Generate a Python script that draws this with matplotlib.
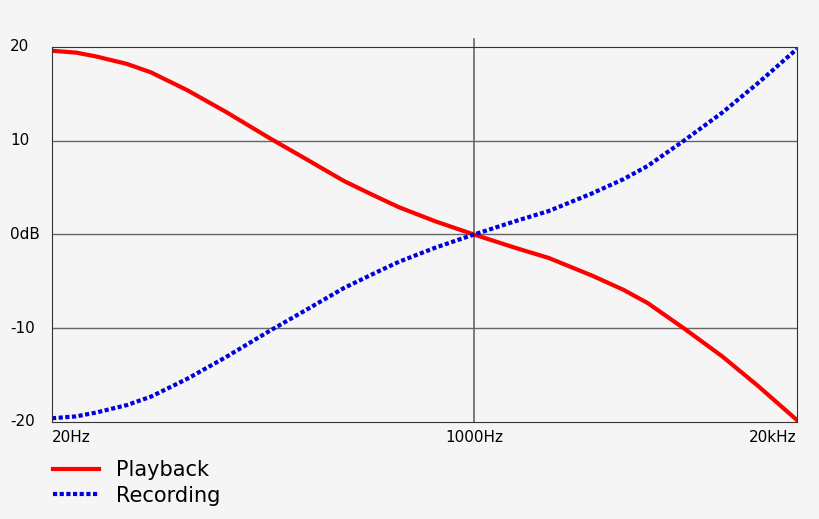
import matplotlib
matplotlib.use("Agg")
import matplotlib.pyplot as plt
from matplotlib.transforms import blended_transform_factory

freq = [20, 25, 30, 40, 50, 70, 100, 150, 200, 300, 400, 500, 700, 1000,
        1500, 2000, 3000, 4000, 5000, 7000, 10000, 14000, 20000]
playback = [19.6, 19.4, 19.0, 18.2, 17.3, 15.4, 13.1, 10.3, 8.4, 5.7, 4.1, 2.9, 1.4, 0.0,
            -1.5, -2.5, -4.4, -5.9, -7.3, -10.0, -13.0, -16.2, -19.8]
recording = [-v for v in playback]
yticks = [-20, -10, 0, 10, 20]
ytick_labels = ["-20", "-10", "0dB", "10", "20"]
xticks = [20, 1000, 20000]
xtick_labels = ["20Hz", "1000Hz", "20kHz"]

bg = "#f5f5f5"
fig = plt.figure(figsize=(8.2, 5.19), dpi=100, facecolor=bg)
ax = fig.add_axes([52/820, 1-422/519, 745/820, 375/519], facecolor=bg)
ax.set_xscale("log")
ax.set_xlim(20, 20000)
ax.set_ylim(-20, 20)
for y in [-10, 0, 10]:
    ax.axhline(y, color="#666666", lw=1)
ax.axvline(1000, color="#666666", lw=1.2, ymax=1.02, clip_on=False)
l1, = ax.plot(freq, playback, color="#ff0000", lw=3)
l2, = ax.plot(freq, recording, color="#0000dd", lw=3, linestyle=(0, (1, 0.6)))
ax.set_yticks(yticks)
ax.set_yticklabels([])
tr = blended_transform_factory(fig.transFigure, ax.transData)
for y, lab in zip(yticks, ytick_labels):
    fig.text(10/820, y, lab, transform=tr, ha="left", va="center", fontsize=11)
ax.set_xticks(xticks)
ax.set_xticklabels(xtick_labels)
ax.minorticks_off()
ax.tick_params(length=0, labelsize=11, pad=6)
for s in ax.spines.values():
    s.set_color("#333333")
xl = ax.get_xticklabels()
xl[0].set_horizontalalignment("left")
xl[2].set_horizontalalignment("right")
fig.legend([l1, l2], ["Playback", "Recording"], loc="upper left",
           bbox_to_anchor=(45/820, 1-452/519), frameon=False, fontsize=15,
           handlelength=2.2, labelspacing=0.25, borderaxespad=0)
fig.savefig("out.png", dpi=100, facecolor=bg)
